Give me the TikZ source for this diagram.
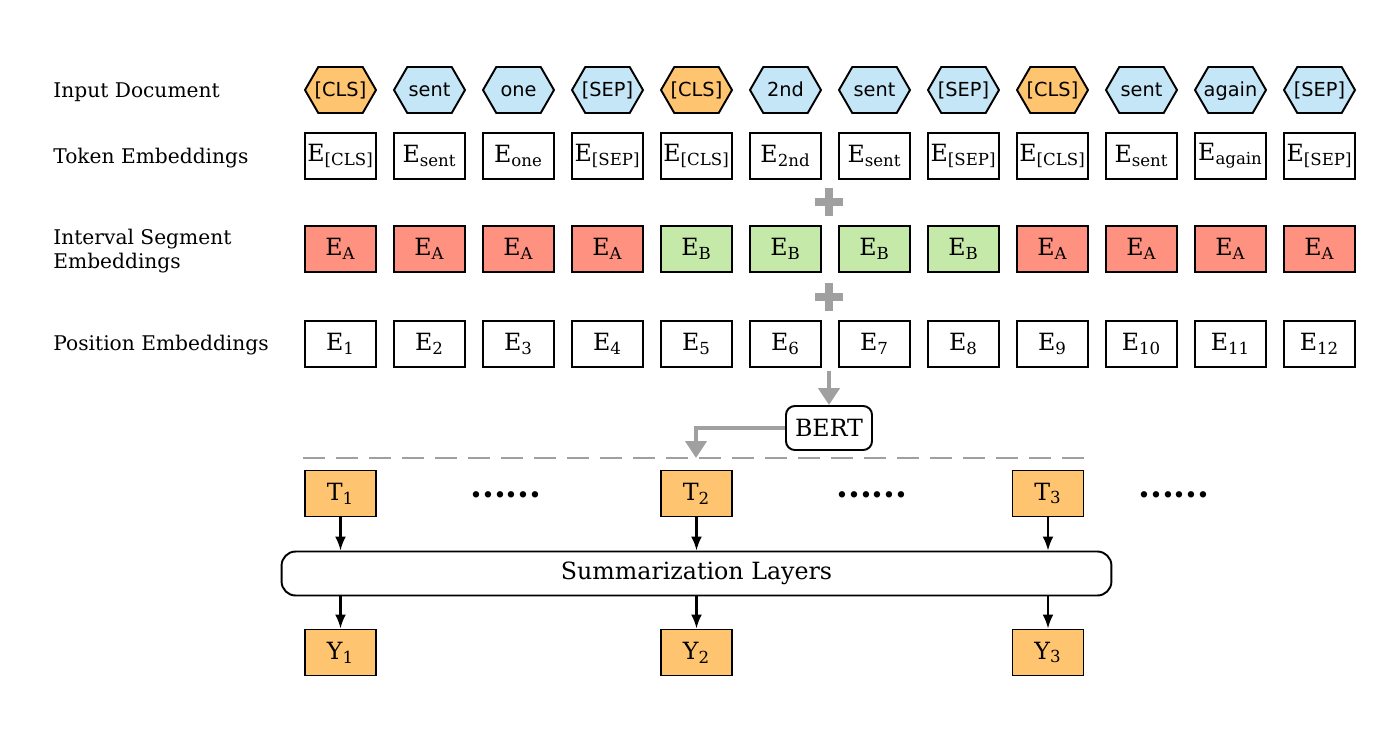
\documentclass[tikz,border=0pt]{standalone}
\usepackage{fontspec}
\setmainfont{DejaVu Serif}
\newfontfamily\toksans{DejaVu Sans}
\usetikzlibrary{shapes.symbols,arrows.meta,positioning}

\definecolor{clsorange}{RGB}{255,196,112}
\definecolor{wordblue}{RGB}{197,230,247}
\definecolor{segred}{RGB}{255,145,128}
\definecolor{seggreen}{RGB}{197,233,168}
\definecolor{flowgray}{RGB}{160,160,160}

\newcommand{\Emb}[1]{E\textsubscript{#1}}
\newcommand{\Tok}[1]{\makebox[0.88cm]{#1}}

\tikzset{
  hexbox/.style={signal, signal to=west and east, signal pointer angle=120,
    draw, line width=1.1pt, minimum width=1.42cm, minimum height=0.92cm,
    inner sep=0pt, text height=3.0mm, text depth=0.5mm,
    font=\toksans\fontsize{11}{13}\selectfont},
  cls/.style={hexbox, fill=clsorange},
  wrd/.style={hexbox, fill=wordblue},
  embbox/.style={draw, line width=1.1pt, minimum width=1.42cm,
    minimum height=0.92cm, inner sep=0pt, font=\fontsize{13.5}{15}\selectfont},
  segA/.style={embbox, fill=segred},
  segB/.style={embbox, fill=seggreen},
  outbox/.style={embbox, fill=clsorange},
  rowlabel/.style={anchor=west, align=left, inner sep=0pt,
    font=\fontsize{11.5}{14}\selectfont},
  grayflow/.style={draw=flowgray, line width=2.8pt},
  grayarrow/.style={grayflow, -{Triangle[width=0.42cm,length=0.34cm]}},
  blackarrow/.style={line width=1.3pt, -{Latex[length=0.28cm,width=0.22cm]}},
  dotrow/.style={inner sep=0pt, font=\bfseries\fontsize{19.5}{22}\selectfont}
}

\begin{document}
\begin{tikzpicture}[x=0.02cm,y=-0.02cm]
  \useasboundingbox (0,0) rectangle (1400,731);

  % row labels
  \node[rowlabel] (lbin)  at (53,92)  {Input Document};
  \node[rowlabel] (lbtok) at (53,158) {Token Embeddings};
  \node[rowlabel] (lbseg) at (53,251) {Interval Segment\\Embeddings};
  \node[rowlabel] (lbpos) at (53,345) {Position Embeddings};

  % input tokens
  \foreach \s/\t [count=\i] in {cls/[CLS], wrd/sent, wrd/one, wrd/[SEP],
      cls/[CLS], wrd/2nd, wrd/sent, wrd/[SEP], cls/[CLS], wrd/sent,
      wrd/again, wrd/[SEP]}
    \node[\s] (in\i) at ({251.5+89*\i},90) {\Tok{\t}};

  % token embeddings
  \foreach \t [count=\i] in {[CLS], sent, one, [SEP], [CLS], 2nd, sent,
      [SEP], [CLS], sent, again, [SEP]}
    \node[embbox] (tok\i) at ({251.5+89*\i},156) {\Emb{\t}};

  % interval segment embeddings
  \foreach \g [count=\i] in {A,A,A,A,B,B,B,B,A,A,A,A}
    \node[seg\g] (seg\i) at ({251.5+89*\i},249) {\Emb{\g}};

  % position embeddings
  \foreach \i in {1,...,12}
    \node[embbox] (pos\i) at ({251.5+89*\i},344) {\Emb{\i}};

  % plus signs
  \draw[draw=flowgray, line width=4pt] (829,188) -- (829,216) (815,202) -- (843,202);
  \draw[draw=flowgray, line width=4pt] (829,283) -- (829,311) (815,297) -- (843,297);

  % BERT
  \node[draw, line width=1.1pt, rounded corners=5pt, minimum width=1.72cm,
    minimum height=0.88cm, inner sep=0pt, font=\fontsize{13.5}{15}\selectfont]
    (bert) at (829,428) {BERT};
  \coordinate (bertin)  at (829,371);
  \coordinate (bertout) at (696,458);
  \draw[grayarrow] (bertin) -- (bert.north);
  \draw[grayarrow] (bert.west) -| (bertout);

  \coordinate (dashL) at (303,458);
  \coordinate (dashR) at (1085,458);
  \draw[draw=flowgray, line width=1.6pt, dash pattern=on 0.44cm off 0.22cm] (dashL) -- (dashR);

  % summarization part
  \node[outbox] (t1) at (340.5,493.5) {T\textsubscript{1}};
  \node[outbox] (t2) at (696.5,493.5) {T\textsubscript{2}};
  \node[outbox] (t3) at (1048,493.5)  {T\textsubscript{3}};
  \node[dotrow] (dots1) at (506,495)  {......};
  \node[dotrow] (dots2) at (872,495)  {......};
  \node[dotrow] (dots3) at (1174,495) {......};

  \node[draw, line width=1.1pt, rounded corners=8pt, minimum width=16.6cm,
    minimum height=0.88cm, font=\fontsize{13.5}{15}\selectfont]
    (summ) at (696.5,573.5) {Summarization Layers};

  \node[outbox] (y1) at (340.5,652.5) {Y\textsubscript{1}};
  \node[outbox] (y2) at (696.5,652.5) {Y\textsubscript{2}};
  \node[outbox] (y3) at (1048,652.5)  {Y\textsubscript{3}};

  \foreach \k in {1,2,3} {
    \draw[blackarrow] (t\k.south) -- (t\k.south |- summ.north);
    \draw[blackarrow] (y\k.north |- summ.south) -- (y\k.north);
  }
\end{tikzpicture}
\end{document}
